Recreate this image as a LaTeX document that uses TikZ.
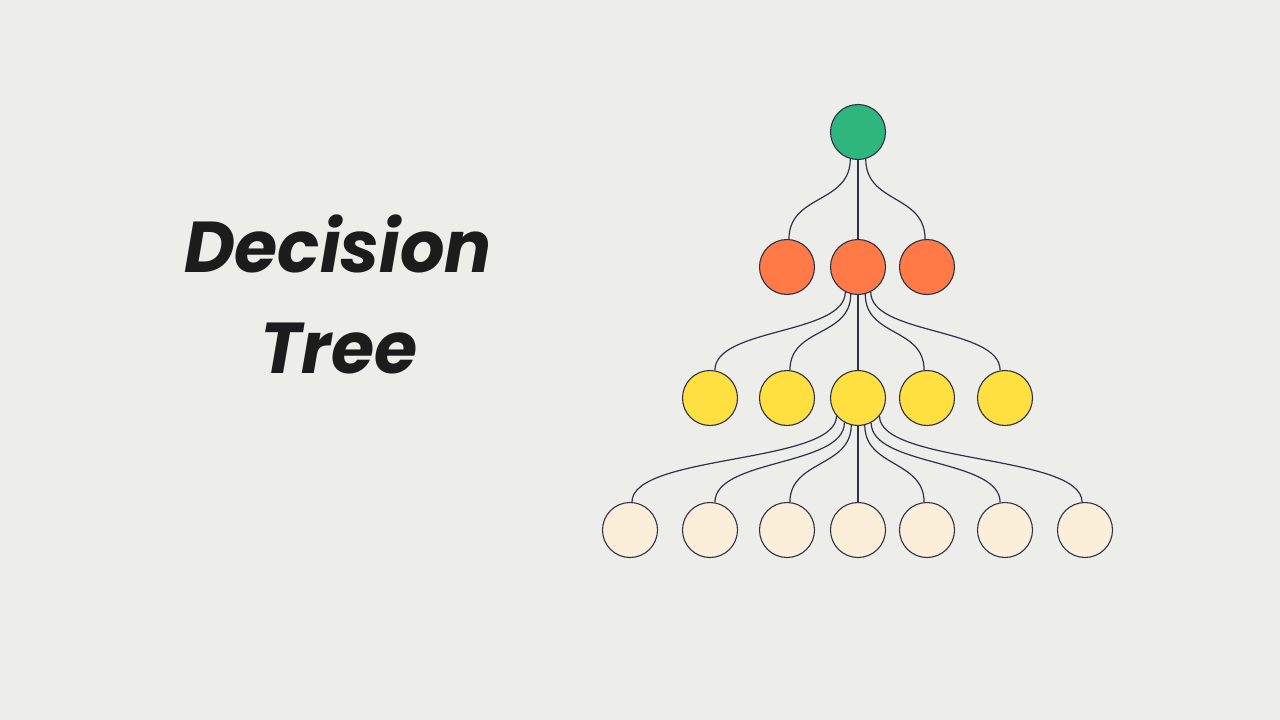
\documentclass[tikz,border=0pt]{standalone}
\usepackage{fontspec}
\newfontfamily\titlefont{Poppins}[FakeStretch=0.97]
\definecolor{bg}{HTML}{EDEDE9}
\definecolor{ink}{HTML}{2E3148}
\definecolor{cgreen}{HTML}{2EB67D}
\definecolor{corange}{HTML}{FF7A47}
\definecolor{cyellow}{HTML}{FFE040}
\definecolor{ccream}{HTML}{FCEFD9}
\definecolor{txt}{HTML}{1C1C1C}
\begin{document}
\begin{tikzpicture}[x=1pt,y=-1pt,
  dot/.style={circle,draw=ink,line width=1.1pt,minimum size=55pt,inner sep=0pt},
  edge/.style={draw=ink,line width=1.2pt},
  title/.style={font=\titlefont\bfseries\itshape\fontsize{72}{72}\selectfont,text=txt,anchor=base,inner sep=0pt}]
\fill[bg] (0,0) rectangle (1280,720);
\useasboundingbox (0,0) rectangle (1280,720);
\node[title] (t1) at (338,272) {Decision};
\node[title] (t2) at (339,373) {Tree};
% nodes
\node[dot,fill=cgreen] (r) at (858,132) {};
\node[dot,fill=corange] (a1) at (787,267) {};
\node[dot,fill=corange] (a2) at (858,267) {};
\node[dot,fill=corange] (a3) at (927,267) {};
\foreach \i/\x in {1/710,2/787,3/858,4/927,5/1005}
  \node[dot,fill=cyellow] (b\i) at (\x,398) {};
\foreach \i/\x in {1/630,2/710,3/787,4/858,5/927,6/1005,7/1085}
  \node[dot,fill=ccream] (c\i) at (\x,530) {};
% edges root -> level 1
\draw[edge] (r.-106) .. controls +(0,45) and +(0,-45) .. (a1.86);
\draw[edge] (r.south) -- (a2.north);
\draw[edge] (r.-74) .. controls +(0,45) and +(0,-45) .. (a3.94);
% level 1 -> level 2
\draw[edge] (a2.-117) .. controls +(0,43) and +(0,-43) .. (b1.80);
\draw[edge] (a2.-105) .. controls +(0,43) and +(0,-43) .. (b2.84);
\draw[edge] (a2.south) -- (b3.north);
\draw[edge] (a2.-75) .. controls +(0,43) and +(0,-43) .. (b4.96);
\draw[edge] (a2.-63) .. controls +(0,43) and +(0,-43) .. (b5.100);
% level 2 -> level 3
\draw[edge] (b3.-140) .. controls +(0,48) and +(0,-48) .. (c1.86);
\draw[edge] (b3.-119) .. controls +(0,44) and +(0,-44) .. (c2.80);
\draw[edge] (b3.-104) .. controls +(0,42) and +(0,-42) .. (c3.84);
\draw[edge] (b3.south) -- (c4.north);
\draw[edge] (b3.-76) .. controls +(0,42) and +(0,-42) .. (c5.96);
\draw[edge] (b3.-62) .. controls +(0,44) and +(0,-44) .. (c6.100);
\draw[edge] (b3.-40) .. controls +(0,48) and +(0,-48) .. (c7.96);
\end{tikzpicture}
\end{document}
